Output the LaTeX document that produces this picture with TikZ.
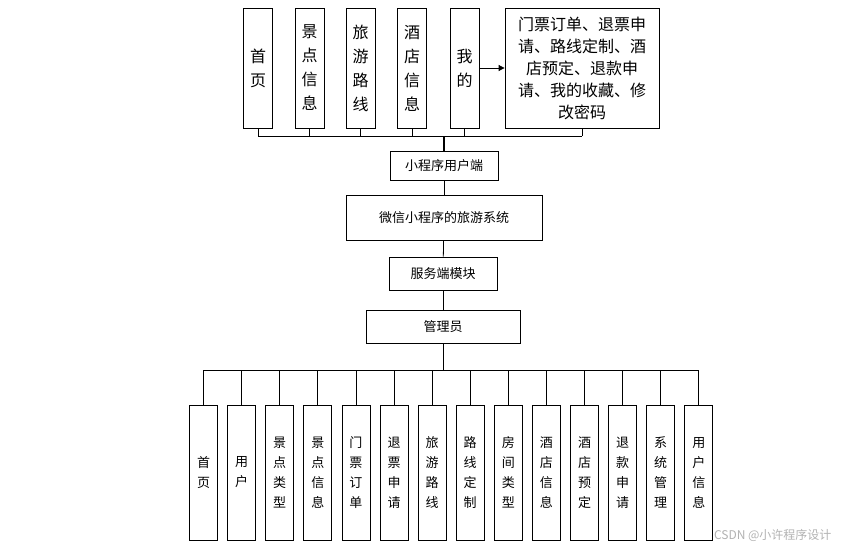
\documentclass[tikz,border=0pt]{standalone}
\usepackage{fontspec}
\setmainfont{Noto Sans CJK SC}
\usetikzlibrary{arrows.meta}
\begin{document}
\begin{tikzpicture}[x=1pt,y=-1pt,
 topbox/.style={draw,thick,minimum width=29pt,minimum height=120pt,inner sep=0pt,align=center,font=\fontsize{16}{24}\selectfont},
 botbox/.style={draw,thick,minimum width=28pt,minimum height=135pt,inner sep=0pt,align=center,font=\fontsize{13}{20}\selectfont},
 midbox/.style={draw,thick,inner sep=0pt,align=center,font=\fontsize{13}{16}\selectfont},
 ln/.style={line width=0.8pt}]
\useasboundingbox (0,0) rectangle (845,550);
\node[topbox] (t1) at (258,68) {首\\页};
\node[topbox] (t2) at (309.5,68) {景\\点\\信\\息};
\node[topbox] (t3) at (360.5,68) {旅\\游\\路\\线};
\node[topbox] (t4) at (412,68) {酒\\店\\信\\息};
\node[topbox] (t5) at (464.5,68) {我\\的};
\node[draw,thick,minimum width=154pt,minimum height=120pt,inner sep=0pt,align=center,font=\fontsize{16}{22}\selectfont] (t6) at (582,68) {门票订单、退票申\\请、路线定制、酒\\店预定、退款申\\请、我的收藏、修\\改密码};
\draw[thick,-{Triangle[length=6pt,width=6pt]}] (t5.east) -- (t6.west);
\node[midbox,minimum width=108pt,minimum height=29pt] (c) at (444,165.5) {小程序用户端};
\node[midbox,minimum width=196pt,minimum height=45pt] (s) at (444,217.5) {微信小程序的旅游系统};
\node[midbox,minimum width=108pt,minimum height=33pt] (f) at (443,273.5) {服务端模块};
\node[midbox,minimum width=154pt,minimum height=33pt] (g) at (443,326.5) {管理员};
\coordinate (bus) at (444,136);
\foreach \n in {t1,t2,t3,t4,t5,t6} \draw[ln] (\n.south) -- (\n.south |- bus);
\draw[ln] (t1.south |- bus) -- (t6.south |- bus);
\draw[line width=1.6pt] (bus) -- (c.north);
\draw[ln] (c) -- (s);
\draw[ln] (s) -- (f);
\draw[ln] (f) -- (g);
\coordinate (bus2) at (443,370);
\foreach \i/\t in {0/{首\\页},1/{用\\户},2/{景\\点\\类\\型},3/{景\\点\\信\\息},4/{门\\票\\订\\单},5/{退\\票\\申\\请},6/{旅\\游\\路\\线},7/{路\\线\\定\\制},8/{房\\间\\类\\型},9/{酒\\店\\信\\息},10/{酒\\店\\预\\定},11/{退\\款\\申\\请},12/{系\\统\\管\\理},13/{用\\户\\信\\息}}{
  \node[botbox] (b\i) at ({203.5+38.1*\i},472.5) {\t};
  \draw[ln] (b\i.north) -- (b\i.north |- bus2);
}
\draw[ln] (b0.north |- bus2) -- (b13.north |- bus2);
\draw[ln] (g.south) -- (bus2);
\node[text=gray!60,font=\fontsize{12}{12}\selectfont,anchor=east] (wm) at (835,535) {CSDN @小许程序设计};
\end{tikzpicture}
\end{document}
